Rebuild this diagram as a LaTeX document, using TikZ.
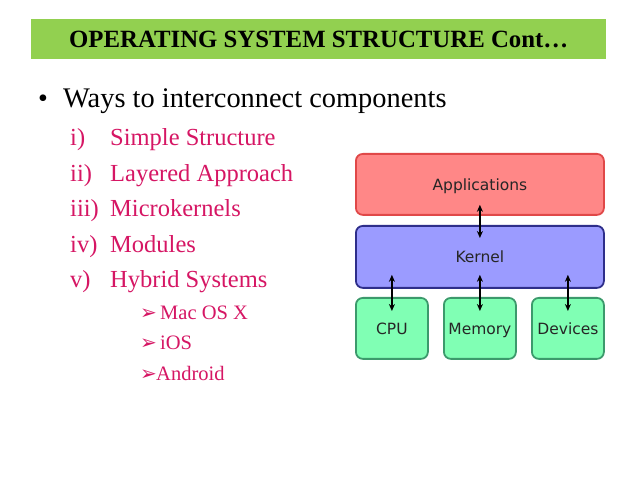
\documentclass[tikz,border=0pt]{standalone}
\usepackage{fontspec}
\setmainfont{Liberation Serif}
\newfontfamily\djv{DejaVu Sans}
\usetikzlibrary{calc,arrows.meta}
\definecolor{titlegreen}{HTML}{92D050}
\definecolor{pinktxt}{RGB}{214,22,100}
\definecolor{appfill}{HTML}{FF8787}
\definecolor{appdraw}{HTML}{E04848}
\definecolor{kerfill}{HTML}{9B9BFF}
\definecolor{kerdraw}{HTML}{2E2E8A}
\definecolor{hwfill}{HTML}{80FFB4}
\definecolor{hwdraw}{HTML}{3C9A6C}
\tikzset{
  box/.style={rounded corners=7pt, line width=1.8pt, inner sep=0pt, font=\djv\fontsize{15.5}{18}\selectfont, text=black!85},
  dbl/.style={{Stealth[length=7pt,width=6pt]}-{Stealth[length=7pt,width=6pt]}, line width=1.7pt},
  item/.style={anchor=base west, inner sep=0pt, text=pinktxt, font=\fontsize{24.5}{28}\selectfont},
  subitem/.style={anchor=base west, inner sep=0pt, text=pinktxt, font=\fontsize{20.5}{24}\selectfont},
  arr/.style={anchor=base west, inner sep=0pt, text=pinktxt, font=\djv\fontsize{20}{24}\selectfont}
}
\begin{document}
\begin{tikzpicture}[x=1pt,y=-1pt]
\useasboundingbox[fill=white] (0,0) rectangle (638,478);
% title
\node[fill=titlegreen, minimum width=575pt, minimum height=40pt, inner sep=0pt, anchor=north west,
  font=\bfseries\fontsize{24.8}{28}\selectfont] (title) at (31,19) {OPERATING SYSTEM STRUCTURE Cont…};
% bullet line
\node[anchor=base, inner sep=0pt, font=\fontsize{28}{32}\selectfont] (bul) at (43,108) {•};
\node[anchor=base west, inner sep=0pt, font=\fontsize{28.4}{32}\selectfont] (ways) at (63,108) {Ways to interconnect components};
% items
\node[item] (n1) at (70,146) {i)};
\node[item] (t1) at (110,146) {Simple Structure};
\node[item] (n2) at (70,181.5) {ii)};
\node[item] (t2) at (110,181.5) {Layered Approach};
\node[item] (n3) at (70,217) {iii)};
\node[item] (t3) at (110,217) {Microkernels};
\node[item] (n4) at (70,252.5) {iv)};
\node[item] (t4) at (110,252.5) {Modules};
\node[item] (n5) at (70,288) {v)};
\node[item] (t5) at (110,288) {Hybrid Systems};
% sub items
\node[arr] (a1) at (140,320) {➢};
\node[subitem] (s1) at (160,320) {Mac OS X};
\node[arr] (a2) at (140,350) {➢};
\node[subitem] (s2) at (160,350) {iOS};
\node[arr] (a3) at (140,381) {➢};
\node[subitem] (s3) at (156,381) {Android};
% diagram
\node[box, fill=appfill, draw=appdraw, minimum width=248pt, minimum height=61pt, anchor=north west, text depth=-4pt] (apps) at (355,153) {Applications};
\node[box, fill=kerfill, draw=kerdraw, minimum width=248pt, minimum height=62pt, anchor=north west] (kern) at (355,225) {Kernel};
\node[box, fill=hwfill, draw=hwdraw, minimum width=72pt, minimum height=61pt, anchor=north west, text depth=-2pt] (cpu) at (355,297) {CPU};
\node[box, fill=hwfill, draw=hwdraw, minimum width=72pt, minimum height=61pt, anchor=north west, text depth=-2pt] (mem) at (443,297) {Memory};
\node[box, fill=hwfill, draw=hwdraw, minimum width=72pt, minimum height=61pt, anchor=north west, text depth=-2pt] (dev) at (531,297) {Devices};
\draw[dbl] ($(apps.south)+(0,-11)$) -- ($(kern.north)+(0,13)$);
\draw[dbl] ($(kern.south -| cpu.north)+(0,-14)$) -- ($(cpu.north)+(0,14)$);
\draw[dbl] ($(kern.south -| mem.north)+(0,-14)$) -- ($(mem.north)+(0,14)$);
\draw[dbl] ($(kern.south -| dev.north)+(0,-14)$) -- ($(dev.north)+(0,14)$);
\end{tikzpicture}
\end{document}
